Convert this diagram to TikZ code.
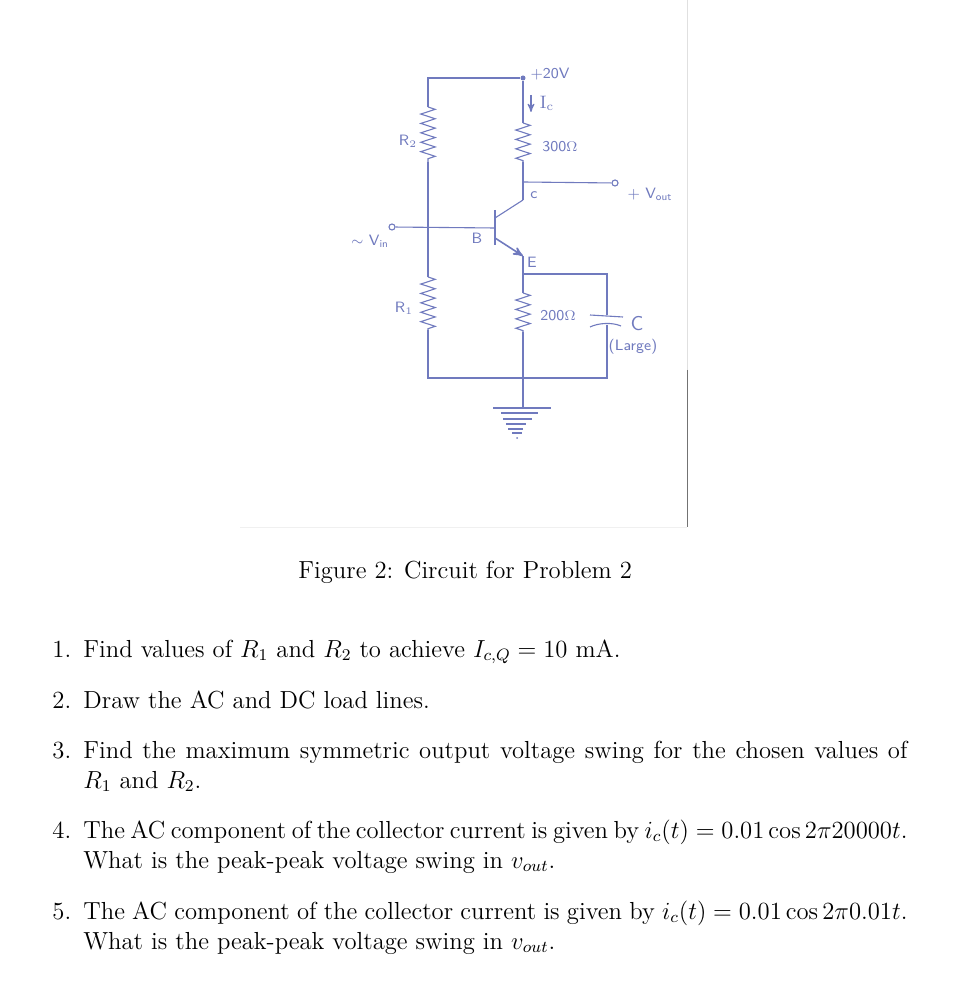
\documentclass[12pt,tikz,border=0pt]{standalone}
\usepackage{xcolor}
\usepackage{amsmath}
\usepackage{amssymb}
\usepackage{tikz}
\usetikzlibrary{arrows}
\usetikzlibrary{decorations.pathmorphing}
\definecolor{penblue}{RGB}{112,122,190}
\tikzset{
  wire/.style={penblue, line width=.55},
  resistor/.style={wire, decorate, decoration={zigzag, amplitude=3.6, segment length=4.7}},
  pen/.style={text=penblue, inner sep=0, font=\sffamily\fontsize{7.5}{9}\selectfont},
  line/.style={anchor=base west, inner sep=0, scale=1.028},
  edge/.style={line width=.5}
}
\newcommand{\fullline}[1]{\hbox to 400.8pt{\spaceskip=.333em plus .3em minus .111em #1}}

\begin{document}
\begin{tikzpicture}[x=.5pt, y=-.5pt]
\useasboundingbox (0,0) rectangle (972,999);

% scanned page edges
\draw[edge, black!12] (687,0)--(687,370);
\draw[edge, black!55] (687,370)--(687,527);
\draw[edge, black!6] (240,527)--(687,527);

% circuit points
\coordinate (vcc) at (523,78);
\coordinate (topleft) at (428,78);
\coordinate (rtwotop) at (428,107);
\coordinate (rtwobot) at (428,162);
\coordinate (ronetop) at (428,277);
\coordinate (ronebot) at (428,330);
\coordinate (botleft) at (428,378);
\coordinate (botmid) at (523,378);
\coordinate (botright) at (607,378);
\coordinate (rctop) at (523,123);
\coordinate (rcbot) at (523,162);
\coordinate (outtap) at (523,182);
\coordinate (coll) at (523,200);
\coordinate (barcoll) at (495,218);
\coordinate (bartop) at (495,210);
\coordinate (barbot) at (495,245);
\coordinate (barbase) at (495,228);
\coordinate (baremit) at (495,238);
\coordinate (emit) at (523,256);
\coordinate (emittap) at (523,274);
\coordinate (retop) at (523,293);
\coordinate (rebot) at (523,332);
\coordinate (captap) at (607,274);
\coordinate (capup) at (607,315);
\coordinate (capdown) at (607,325);
\coordinate (gnd) at (523,408);
\coordinate (iatop) at (531,95);
\coordinate (iabot) at (531,112);

% terminals
\node[circle, draw=penblue, line width=.55, inner sep=0, minimum size=3] (vout) at (615,183) {};
\node[circle, draw=penblue, line width=.55, inner sep=0, minimum size=3] (vin) at (392,227) {};
\node[circle, fill=penblue, inner sep=0, minimum size=2.5] (vccdot) at (vcc) {};

% supply and the two resistor branches
\draw[wire] (rtwotop)--(topleft)--(vccdot)--(rctop);
\draw[resistor] (rtwotop)--(rtwobot);
\draw[wire] (rtwobot)--(ronetop);
\draw[resistor] (ronetop)--(ronebot);
\draw[wire] (ronebot)--(botleft)--(botright)--(capdown);
\draw[resistor] (rctop)--(rcbot);
\draw[wire] (rcbot)--(coll);
\draw[wire] (outtap)--(vout);

% transistor
\draw[wire] (vin)--(barbase);
\draw[wire, line width=.7] (bartop)--(barbot);
\draw[wire] (barcoll)--(coll);
\draw[wire, line width=.8, ->, >=stealth'] (baremit)--(emit);

% emitter branch
\draw[wire] (emit)--(retop);
\draw[resistor] (retop)--(rebot);
\draw[wire] (rebot)--(gnd);
\draw[wire] (emittap)--(captap)--(capup);

% large capacitor
\coordinate (plateAl) at (590,315);
\coordinate (plateAr) at (623,317);
\coordinate (plateBl) at (590,327);
\coordinate (plateBr) at (621,326);
\draw[wire] (plateAl)--(plateAr);
\draw[wire] (plateBl) .. controls (598,323) and (612,322) .. (plateBr);

% ground
\coordinate (gndAl) at (493,408); \coordinate (gndAr) at (551,408);
\coordinate (gndBl) at (501,413); \coordinate (gndBr) at (538,413);
\coordinate (gndCl) at (503,419); \coordinate (gndCr) at (532,419);
\coordinate (gndDl) at (506,424); \coordinate (gndDr) at (526,424);
\coordinate (gndEl) at (508,429); \coordinate (gndEr) at (523,429);
\coordinate (gndFl) at (512,433); \coordinate (gndFr) at (522,433);
\draw[wire] (gndAl)--(gndAr);
\draw[wire] (gndBl)--(gndBr);
\draw[wire] (gndCl)--(gndCr);
\draw[wire] (gndDl)--(gndDr);
\draw[wire] (gndEl)--(gndEr);
\draw[wire] (gndFl)--(gndFr);
\node[circle, fill=penblue, inner sep=0, minimum size=1] (gnddot) at (517,438) {};

% current arrow
\draw[wire, ->, >=stealth'] (iatop)--(iabot);

% handwritten labels
\node[pen] (lvcc) at (550,74) {+20V};
\node[pen, font=\rmfamily\fontsize{9}{11}\selectfont] (lic) at (547,103) {I$_{\text{c}}$};
\node[pen] (lrc) at (560,147) {300$\Omega$};
\node[pen] (lc) at (534,195) {c};
\node[pen] (lvout) at (650,194) {+ V$_{\text{out}}$};
\node[pen] (lvin) at (370,241) {$\sim$ V$_{\text{in}}$};
\node[pen] (lb) at (477,238) {B};
\node[pen] (le) at (532,262) {E};
\node[pen] (lrtwo) at (408,141) {R$_2$};
\node[pen] (lrone) at (404,308) {R$_1$};
\node[pen] (lre) at (558,316) {200$\Omega$};
\node[pen, font=\sffamily\fontsize{10}{12}\selectfont] (lcap) at (637,324) {C};
\node[pen] (llarge) at (633,347) {(Large)};

% caption and problem list
\node[line] (caption) at (298,578) {Figure 2: Circuit for Problem 2};

\node[line] (numone) at (52,657) {1.};
\node[line] (itemone) at (83,657) {Find values of $R_1$ and $R_2$ to achieve $I_{c,Q}=10$ mA.};
\node[line] (numtwo) at (52,708) {2.};
\node[line] (itemtwo) at (83,708) {Draw the AC and DC load lines.};
\node[line] (numthree) at (52,758) {3.};
\node[line] (itemthree) at (83,758) {\fullline{Find the maximum symmetric output voltage swing for the chosen values of}};
\node[line] (itemthreeb) at (83,788) {$R_1$ and $R_2$.};
\node[line] (numfour) at (52,838) {4.};
\node[line] (itemfour) at (83,838) {\fullline{The AC component of the collector current is given by $i_c(t)=0.01\cos 2\pi 20000t$.}};
\node[line] (itemfourb) at (83,868) {What is the peak-peak voltage swing in $v_{out}$.};
\node[line] (numfive) at (52,919) {5.};
\node[line] (itemfive) at (83,919) {\fullline{The AC component of the collector current is given by $i_c(t)=0.01\cos 2\pi 0.01t$.}};
\node[line] (itemfiveb) at (83,949) {What is the peak-peak voltage swing in $v_{out}$.};
\end{tikzpicture}
\end{document}
